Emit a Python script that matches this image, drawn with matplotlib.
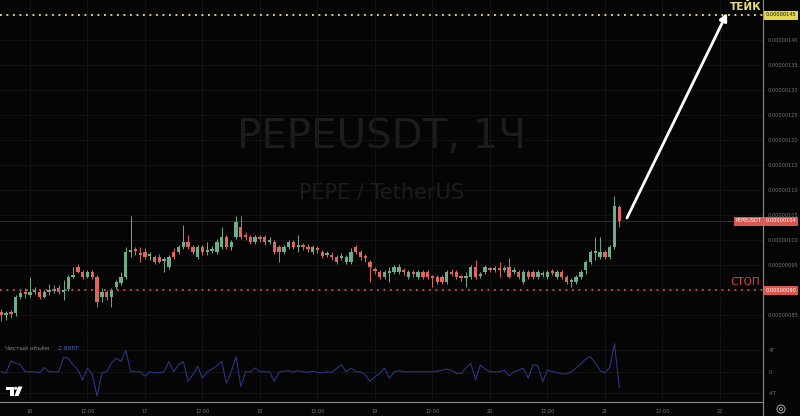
import numpy as np
import matplotlib.pyplot as plt
import matplotlib.ticker as mticker
from matplotlib.patches import Polygon, Ellipse
from matplotlib.lines import Line2D

plt.rcParams['font.family'] = ['DejaVu Sans']

# hourly candles, hours counted from 16th 00:00; prices in units of 1e-8 USDT
hours = np.arange(-6, 124)
opens = [85.6, 85.0, 85.6, 85.4, 88.6, 89.4, 89.0, 89.6, 89.6, 88.6,
         89.6, 89.8, 90.4, 89.6, 90.2, 92.6, 94.6, 93.6, 92.6, 93.6,
         92.6, 88.6, 89.6, 88.6, 90.6, 91.4, 92.6, 97.6, 98.0, 97.4,
         97.6, 96.8, 96.6, 96.6, 95.8, 94.6, 97.6, 97.6, 98.6, 99.6,
         98.6, 96.6, 98.6, 97.6, 97.8, 97.6, 98.6, 100.6, 98.6, 100.6,
         102.6, 100.8, 100.6, 99.6, 100.4, 100.6, 99.6, 99.6, 98.6, 97.6,
         98.6, 99.6, 98.6, 98.8, 98.6, 97.6, 98.2, 97.6, 97.0, 97.0,
         96.6, 96.4, 95.6, 95.6, 98.6, 97.6, 96.6, 95.6, 94.0, 93.6,
         92.6, 93.4, 93.6, 93.6, 93.8, 92.6, 93.4, 92.6, 93.6, 93.6,
         92.6, 92.6, 92.6, 91.6, 93.4, 93.6, 92.6, 92.4, 92.6, 94.6,
         92.8, 93.6, 94.2, 94.0, 94.2, 94.0, 94.6, 93.6, 93.6, 91.6,
         93.6, 93.6, 92.6, 93.0, 92.6, 93.6, 92.6, 93.6, 92.6, 91.6,
         91.6, 92.6, 94.0, 95.6, 97.4, 96.6, 97.6, 96.6, 98.6, 106.6]
closes = [85.0, 85.4, 85.2, 88.6, 89.4, 89.2, 89.6, 89.8, 88.6, 89.6,
          89.8, 90.2, 89.6, 89.8, 92.6, 93.0, 93.6, 92.6, 93.6, 92.6,
          87.6, 89.6, 88.6, 90.0, 91.6, 92.6, 97.6, 98.0, 97.8, 97.0,
          96.6, 97.0, 95.6, 95.6, 96.0, 96.6, 96.6, 98.6, 99.6, 98.6,
          97.6, 98.6, 97.6, 97.8, 98.0, 99.6, 100.6, 98.6, 99.6, 103.6,
          100.6, 100.6, 99.6, 100.6, 100.2, 99.6, 99.8, 97.6, 97.6, 98.6,
          99.6, 98.6, 98.8, 98.6, 98.2, 98.6, 98.0, 96.8, 97.2, 96.6,
          95.6, 96.6, 96.6, 97.6, 97.6, 96.6, 96.4, 94.6, 93.8, 92.6,
          93.6, 93.6, 94.6, 94.6, 93.6, 93.6, 93.2, 93.6, 92.6, 92.6,
          92.4, 91.6, 91.6, 93.6, 93.2, 92.6, 92.4, 92.6, 94.6, 92.6,
          93.0, 94.6, 94.0, 94.2, 94.0, 94.2, 92.6, 94.0, 92.6, 93.6,
          92.6, 92.6, 93.6, 93.2, 93.6, 93.4, 93.6, 92.6, 91.6, 91.8,
          92.6, 93.6, 95.6, 97.6, 97.6, 97.6, 96.6, 98.6, 106.8, 103.8]
highs = [86.2, 85.8, 86.0, 89.0, 90.0, 90.4, 92.6, 90.6, 90.2, 90.0,
         91.2, 91.0, 91.0, 92.0, 93.0, 94.6, 95.2, 94.0, 94.0, 94.0,
         93.0, 90.4, 90.0, 90.4, 92.0, 93.6, 98.6, 104.8, 98.6, 98.6,
         98.4, 97.6, 97.0, 97.2, 96.6, 97.0, 98.4, 99.0, 103.0, 101.0,
         99.0, 99.0, 99.0, 99.6, 98.8, 100.2, 102.6, 101.0, 100.0, 104.8,
         104.8, 101.6, 101.0, 101.0, 101.0, 101.0, 100.6, 100.0, 99.0, 99.0,
         100.0, 100.0, 101.0, 99.4, 99.2, 99.0, 98.8, 98.0, 97.8, 97.6,
         97.0, 97.4, 97.0, 98.4, 99.0, 98.0, 97.2, 96.0, 94.6, 94.0,
         94.0, 94.6, 95.0, 95.2, 94.4, 94.0, 94.0, 94.0, 94.0, 94.0,
         93.0, 93.0, 93.0, 94.0, 94.2, 94.0, 93.0, 93.6, 95.0, 96.0,
         93.6, 95.0, 94.6, 94.8, 95.6, 94.8, 96.4, 94.6, 94.0, 94.0,
         94.0, 94.0, 94.0, 93.8, 94.0, 94.2, 94.0, 94.0, 93.0, 92.4,
         93.0, 94.0, 96.0, 98.0, 100.6, 100.6, 98.0, 99.0, 108.8, 107.0]
lows = [83.8, 84.0, 84.4, 84.8, 88.2, 88.4, 88.6, 89.2, 88.2, 88.4,
        89.0, 89.4, 89.2, 88.0, 89.8, 92.4, 93.4, 92.2, 92.4, 92.2,
        86.6, 87.6, 88.0, 86.6, 90.2, 91.0, 92.2, 96.6, 97.0, 95.6,
        96.2, 96.0, 95.2, 95.4, 93.6, 94.2, 96.2, 97.2, 98.2, 98.2,
        97.2, 96.2, 97.0, 97.0, 97.4, 97.2, 98.2, 98.2, 98.0, 100.2,
        100.2, 100.0, 99.2, 99.2, 99.6, 99.0, 99.2, 97.2, 95.6, 97.2,
        98.2, 98.2, 97.6, 98.0, 97.6, 97.2, 97.4, 96.4, 96.6, 96.0,
        95.2, 96.0, 95.2, 95.2, 97.2, 96.0, 95.6, 91.6, 93.2, 92.2,
        92.2, 91.6, 93.2, 93.2, 93.0, 92.2, 92.6, 92.2, 92.2, 92.2,
        90.6, 91.2, 91.2, 91.2, 92.8, 92.2, 91.8, 90.6, 92.2, 92.2,
        92.4, 93.2, 93.6, 93.6, 92.6, 93.6, 92.4, 93.2, 92.2, 91.2,
        92.2, 92.2, 92.2, 92.6, 92.2, 93.0, 92.2, 92.2, 91.2, 90.6,
        91.2, 92.2, 93.2, 95.2, 96.0, 96.2, 96.2, 96.2, 98.2, 102.6]
# net volume, in T
net_vol = [0.05, -0.25, 2.0, 1.6, 1.3, 0.0, 0.0, 0.0, -0.2, 0.8,
           0.0, 0.0, 0.0, 2.7, 2.5, 1.3, 0.3, -1.5, 0.7, -0.5,
           -4.5, -0.2, 0.0, 1.6, 2.5, 1.9, 4.0, 0.1, 0.0, 0.0,
           -0.8, 0.0, -0.2, -0.2, 0.0, 1.9, 0.0, 1.3, 1.9, -1.8,
           -0.5, 1.0, -1.2, 0.0, 0.5, 1.1, 1.9, -2.1, 0.0, 2.8,
           -2.7, 0.0, 0.0, 0.7, 0.0, 0.0, 0.0, -1.8, 0.0, 0.1,
           0.2, -0.1, 0.2, 0.0, -0.1, 0.1, -0.1, -0.2, 0.0, -0.1,
           0.6, 1.3, 0.0, 0.7, 0.0, 0.0, -0.6, -1.8, -0.9, -0.3,
           0.7, -1.2, 0.0, 0.2, 0.0, 0.0, 0.0, 0.0, 0.0, 0.0,
           0.0, 0.1, 0.3, 0.5, 0.3, -0.3, -0.3, 0.7, 1.6, -1.5,
           1.3, 0.5, 0.0, 0.0, 0.0, 0.3, -0.8, 0.0, 0.3, 0.7,
           -1.2, 1.3, 1.1, -1.8, 0.3, 0.0, -0.1, -0.4, -0.4, 0.0,
           0.7, 1.5, 2.4, 2.8, 1.6, 0.2, -0.2, 0.8, 5.2, -2.9]
net_vol_label = '-2.898T'

time_ticks = np.arange(0, 145, 12)
time_labels = ['16', '12:00', '17', '12:00', '18', '12:00', '19',
               '12:00', '20', '12:00', '21', '12:00', '22']
price_ticks = np.arange(85, 146, 5)
take = 145.0
stop = 90.0
arrow_from = (124.6, 104.4)
arrow_to = (145.5, 145.4)

scale = 1e-8
o = np.array(opens) * scale
c = np.array(closes) * scale
h = np.array(highs) * scale
l = np.array(lows) * scale

bg = '#050505'
up = '#6cae8c'
down = '#dc675e'
grid = '#141414'
txt = '#767676'
fs = 3.6

fig = plt.figure(figsize=(8, 4.16), dpi=100, facecolor=bg)
W, H = 800.0, 416.0
ax = fig.add_axes([0, 1 - 332 / H, 763 / W, 332 / H], facecolor=bg)
axv = fig.add_axes([0, 1 - 402 / H, 763 / W, 68 / H], facecolor=bg, sharex=ax)

# watermark
ax.text(0.5, 1 - 137 / 332, 'PEPEUSDT, 1Ч', transform=ax.transAxes, ha='center',
        va='center', fontsize=29, color='#1c1c1c', zorder=0)
ax.text(0.5, 1 - 192 / 332, 'PEPE / TetherUS', transform=ax.transAxes, ha='center',
        va='center', fontsize=15, color='#1c1c1c', zorder=0)

# candles
colors = [up if cc >= oo else down for oo, cc in zip(o, c)]
ax.vlines(hours, l, h, colors=colors, lw=0.7, zorder=3)
body = np.maximum(np.abs(c - o), 0.35 * scale)
ax.bar(hours, body, bottom=np.minimum(o, c), width=0.7, color=colors, lw=0, zorder=4)

ax.set_xlim(-6.26, 153.0)
ax.set_ylim(81.6 * scale, 148 * scale)
ax.set_yticks(price_ticks * scale)
# levels with their own tag on the scale get no plain label
tagged = [take, stop]
ax.yaxis.set_major_formatter(mticker.FuncFormatter(
    lambda v, p: '' if any(abs(v / scale - t) < 0.01 for t in tagged) else f'{v:.8f}'))
ax.yaxis.tick_right()
ax.tick_params(axis='y', length=0, pad=3, labelsize=fs, labelcolor=txt)
ax.tick_params(axis='x', length=0, labelbottom=False)
ax.set_xticks(time_ticks)
ax.grid(True, color=grid, lw=0.6)
ax.set_axisbelow(True)
for s in ax.spines.values():
    s.set_visible(False)

# current price line
ax.axhline(c[-1], color='#363636', lw=0.6, zorder=1)

# take / stop levels
ax.axhline(take * scale, color='#e9e2a4', lw=1.3, ls=(0, (1, 2.6)), zorder=5)
ax.axhline(stop * scale, color='#d24a4a', lw=1.3, ls=(0, (1, 2.6)), zorder=5)
ax.annotate('ТЕЙК', xy=(149.3, take * scale), xytext=(0, 2.5), textcoords='offset points',
            ha='center', va='bottom', fontsize=7.5, fontweight='bold', color='#e7dc80',
            annotation_clip=False, zorder=6)
ax.annotate('СТОП', xy=(149.3, stop * scale), xytext=(0, 2.5), textcoords='offset points',
            ha='center', va='bottom', fontsize=7.5, color='#d24a4a', zorder=6)

# arrow to the target
ax.annotate('', xy=(arrow_to[0], arrow_to[1] * scale),
            xytext=(arrow_from[0], arrow_from[1] * scale),
            arrowprops=dict(arrowstyle='-|>', color='white', lw=2.0, mutation_scale=11,
                            shrinkA=0, shrinkB=0),
            annotation_clip=False, zorder=7)

# price labels on the scale
tr = ax.get_yaxis_transform()
def price_tag(y, face, fg):
    ax.text(1.003, y, f'{y:.8f}', transform=tr, ha='left', va='center', fontsize=fs,
            color=fg, clip_on=False, zorder=8,
            bbox=dict(boxstyle='square,pad=0.4', fc=face, ec='none'))

price_tag(take * scale, '#e2d64e', '#111111')
price_tag(c[-1], '#d9574f', 'white')
price_tag(stop * scale, '#d9574f', 'white')
ax.text(0.998, c[-1], 'PEPEUSDT', transform=tr, ha='right', va='center', fontsize=fs,
        color='white', zorder=8, bbox=dict(boxstyle='square,pad=0.4', fc='#d9574f', ec='none'))

# net volume pane
axv.plot(hours, net_vol, color='#2c3889', lw=0.75)
axv.set_ylim(-5.6, 7.0)
axv.set_yticks([4, 0, -4])
axv.set_yticklabels(['4T', '0', '-4T'])
axv.yaxis.tick_right()
axv.tick_params(axis='y', length=0, pad=4, labelsize=fs, labelcolor=txt)
axv.set_xticks(time_ticks)
axv.set_xticklabels(time_labels)
axv.tick_params(axis='x', length=0, pad=5, labelsize=fs, labelcolor=txt)
axv.grid(True, color=grid, lw=0.6)
for s in axv.spines.values():
    s.set_visible(False)
axv.text(0.006, 0.78, 'Чистый объём', transform=axv.transAxes, fontsize=4.2,
         color='#858585', va='center')
axv.text(0.074, 0.78, net_vol_label, transform=axv.transAxes, fontsize=4.2,
         color='#4a62c8', va='center')

# frame lines
fig.add_artist(Line2D([763 / W, 763 / W], [0, 1], color='#8a8a8a', lw=0.8))
fig.add_artist(Line2D([0, 763 / W], [1 - 402 / H, 1 - 402 / H], color='#8a8a8a', lw=0.8))

# logo and settings icon
def px(pts):
    return [(x / W, 1 - y / H) for x, y in pts]

fig.add_artist(Polygon(px([(6, 386.5), (13.5, 386.5), (13.5, 396), (10, 396), (10, 390), (6, 390)]),
                       closed=True, fc='white', ec='none', transform=fig.transFigure))
fig.add_artist(Ellipse((15.6 / W, 1 - 388.3 / H), 3 / W, 3 / H, fc='white', ec='none',
                       transform=fig.transFigure))
fig.add_artist(Polygon(px([(18, 386.5), (22.5, 386.5), (18.5, 396), (14.5, 396)]),
                       closed=True, fc='white', ec='none', transform=fig.transFigure))
fig.add_artist(Ellipse((781 / W, 1 - 409 / H), 8 / W, 8 / H, fc='none', ec='#9a9a9a', lw=0.8,
                       transform=fig.transFigure))
fig.add_artist(Ellipse((781 / W, 1 - 409 / H), 3 / W, 3 / H, fc='none', ec='#9a9a9a', lw=0.7,
                       transform=fig.transFigure))

fig.savefig('out.png', dpi=100, facecolor=bg)
